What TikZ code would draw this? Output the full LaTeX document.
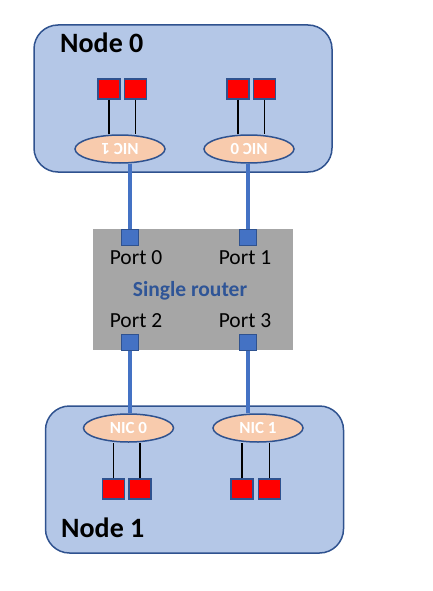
\documentclass[tikz,border=0pt]{standalone}
\usepackage{fontspec}
\setmainfont{Carlito}
\usepackage{graphicx}
\usepackage{tikz}
\usetikzlibrary{shapes.geometric, positioning}
\definecolor{hostfill}{HTML}{B4C7E7}
\definecolor{edgeblue}{HTML}{2F528F}
\definecolor{nicfill}{HTML}{F8CBAD}
\definecolor{wireblue}{HTML}{4472C4}
\definecolor{routergray}{HTML}{A6A6A6}
\definecolor{labelblue}{HTML}{2F5597}

\begin{document}
\begin{tikzpicture}[
    x=1pt, y=-1pt,
    host/.style={draw=edgeblue, line width=1.5pt, fill=hostfill, rounded corners=24pt, minimum width=298pt, minimum height=147pt},
    hostlabel/.style={anchor=base west, inner sep=0pt, font=\fontsize{28}{33}\selectfont\bfseries},
    router/.style={fill=routergray, minimum width=200pt, minimum height=121pt, inner sep=0pt},
    port/.style={draw=edgeblue, line width=1pt, fill=wireblue, minimum width=17pt, minimum height=16pt, inner sep=0pt},
    portlabel/.style={anchor=base, inner sep=0pt, font=\fontsize{21.5}{25}\selectfont},
    nic/.style={ellipse, draw=edgeblue, line width=1.5pt, fill=nicfill, minimum width=90pt, minimum height=28pt, inner sep=0pt, text=white, font=\fontsize{17}{20}\selectfont\bfseries},
    core/.style={draw=edgeblue, line width=1.5pt, fill=red, minimum width=22pt, minimum height=20pt, inner sep=0pt},
    link/.style={line width=1.8pt},
    wire/.style={draw=wireblue, line width=4pt}
]
    \useasboundingbox (0,0) rectangle (432,591);

    % hosts
    \node[host] (host0) at (183,98.5) {};
    \node[hostlabel] (host0lbl) at (60,53) {Node 0};
    \node[host] (host1) at (194.5,479.5) {};
    \node[hostlabel] (host1lbl) at (61,537) {Node 1};

    % router
    \node[router] (rtr) at (193,289.5) {};
    \node[port] (p0) at (130,237) {};
    \node[port] (p1) at (248,237) {};
    \node[port] (p2) at (130,342) {};
    \node[port] (p3) at (248,342) {};
    \node[portlabel] (p0lbl) at (136,264) {Port 0};
    \node[portlabel] (p1lbl) at (245,264) {Port 1};
    \node[portlabel, text=labelblue, font=\fontsize{21.5}{25}\selectfont\bfseries] (rtrlbl) at (190,296) {Single router};
    \node[portlabel] (p2lbl) at (136,327) {Port 2};
    \node[portlabel] (p3lbl) at (245,327) {Port 3};

    % node 0 NICs (upside down)
    \node[nic] (h0nic1) at (120,149) {\rotatebox{180}{NIC 1}};
    \node[nic] (h0nic0) at (249,149) {\rotatebox{180}{NIC 0}};
    \node[core] (h0c1) at (109,89) {};
    \node[core] (h0c2) at (135.5,89) {};
    \node[core] (h0c3) at (238,89) {};
    \node[core] (h0c4) at (264.5,89) {};

    % node 1 NICs
    \node[nic] (h1nic0) at (128.5,428) {NIC 0};
    \node[nic] (h1nic1) at (258,428) {NIC 1};
    \node[core] (h1c1) at (113.5,489) {};
    \node[core] (h1c2) at (140,489) {};
    \node[core] (h1c3) at (242,489) {};
    \node[core] (h1c4) at (269.5,489) {};

    % links
    \draw[link] (h0c1.south) -- (h0c1.south |- h0nic1.north);
    \draw[link] (h0c2.south) -- (h0c2.south |- h0nic1.north);
    \draw[link] (h0c3.south) -- (h0c3.south |- h0nic0.north);
    \draw[link] (h0c4.south) -- (h0c4.south |- h0nic0.north);
    \draw[link] (h1c1.north) -- (h1c1.north |- h1nic0.south);
    \draw[link] (h1c2.north) -- (h1c2.north |- h1nic0.south);
    \draw[link] (h1c3.north) -- (h1c3.north |- h1nic1.south);
    \draw[link] (h1c4.north) -- (h1c4.north |- h1nic1.south);

    % wires
    \draw[wire] (p0.north) -- (p0.north |- h0nic1.south);
    \draw[wire] (p1.north) -- (p1.north |- h0nic0.south);
    \draw[wire] (p2.south) -- (p2.south |- h1nic0.north);
    \draw[wire] (p3.south) -- (p3.south |- h1nic1.north);
\end{tikzpicture}
\end{document}
